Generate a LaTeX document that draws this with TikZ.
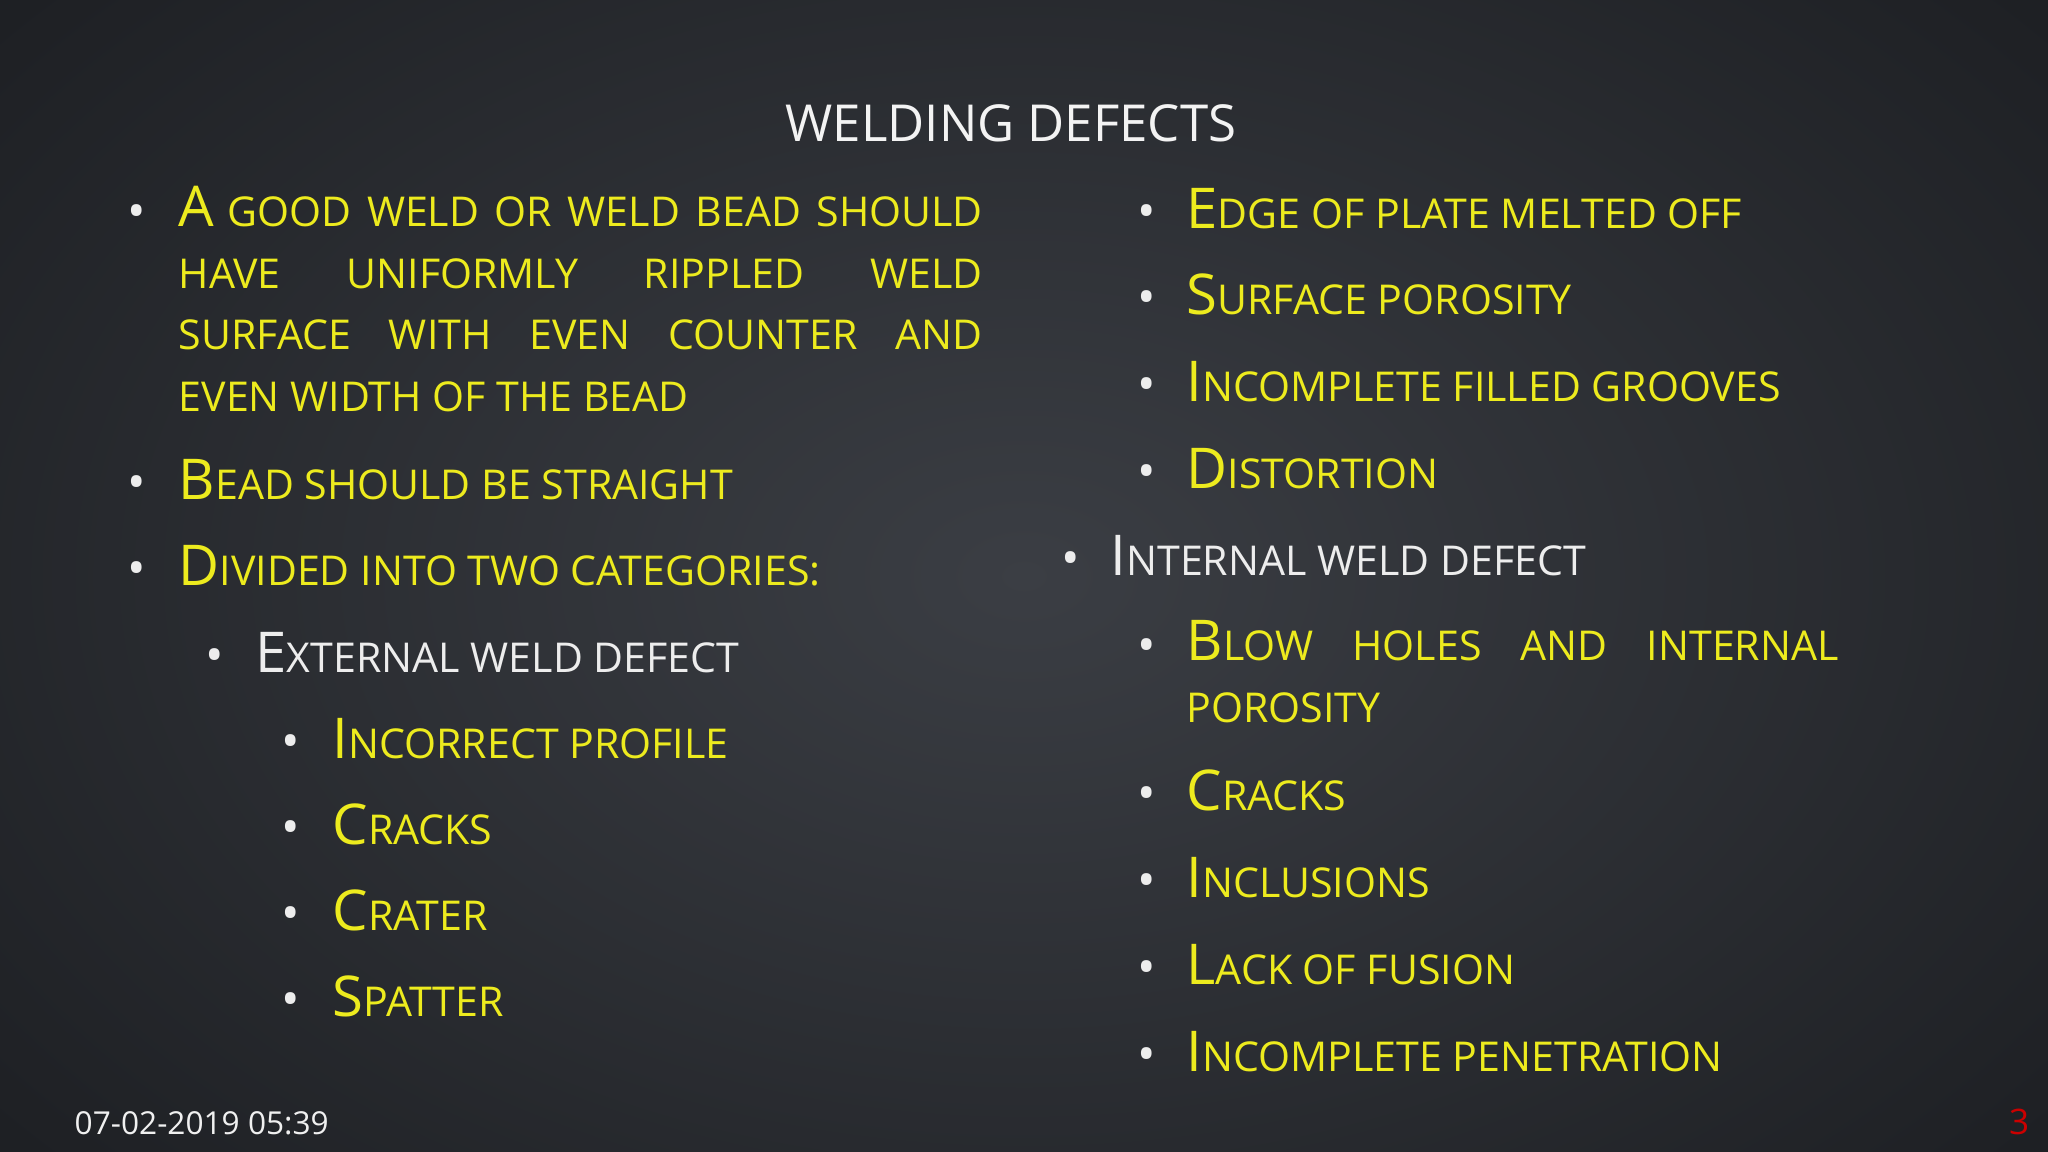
\documentclass[tikz,border=0pt]{standalone}
\usepackage{fontspec}
\setmainfont{Open Sans}
\definecolor{yel}{HTML}{EDEB1E}
\definecolor{wt}{HTML}{EDEDED}
\definecolor{bgc}{HTML}{3B3E44}
\definecolor{bge}{HTML}{1E2024}
\newcommand{\B}[1]{{\fontsize{16pt}{20pt}\selectfont #1}}
\newcommand{\s}[1]{{\fontsize{11.7pt}{20pt}\selectfont #1}}
\tikzset{
 txt/.style={anchor=base west,inner sep=0pt,text=yel},
 wtxt/.style={anchor=base west,inner sep=0pt,text=wt},
 bul/.style={anchor=base,inner sep=0pt,text=wt,font=\fontsize{14pt}{16pt}\selectfont},
}
\begin{document}
\begin{tikzpicture}
\useasboundingbox (0,0) rectangle (20.48,11.52);
\shade[inner color=bgc,outer color=bge] (-3,-3) rectangle (23.48,14.52);
\node[anchor=base,inner sep=0pt,text=wt!70] (title) at (10.11,10.1) {\fontsize{14.5pt}{18pt}\selectfont WELDING DEFECTS};
% left column
\foreach \x/\y/\n in {1.37/9.23/a,1.37/6.52/b,1.37/5.66/c,2.15/4.79/d,2.91/3.93/e,2.91/3.07/f,2.91/2.21/g,2.91/1.35/h}
  \node[bul] (b\n) at (\x,\y) {•};
\node[txt,anchor=north west] (ta) at (1.78,9.66) {\parbox[t]{8.04cm}{\baselineskip=0.615cm\hyphenpenalty=10000
 \B{A} \s{GOOD WELD OR WELD BEAD SHOULD}\linebreak \s{HAVE UNIFORMLY RIPPLED WELD}\linebreak \s{SURFACE WITH EVEN COUNTER AND}\linebreak \s{EVEN WIDTH OF THE BEAD}}};
\node[txt] (tb) at (1.78,6.52) {\B{B}\s{EAD SHOULD BE STRAIGHT}};
\node[txt] (tc) at (1.78,5.66) {\B{D}\s{IVIDED INTO TWO CATEGORIES:}};
\node[wtxt] (td) at (2.55,4.79) {\B{E}\s{XTERNAL WELD DEFECT}};
\node[txt] (te) at (3.32,3.93) {\B{I}\s{NCORRECT PROFILE}};
\node[txt] (tf) at (3.32,3.07) {\B{C}\s{RACKS}};
\node[txt] (tg) at (3.32,2.21) {\B{C}\s{RATER}};
\node[txt] (th) at (3.32,1.35) {\B{S}\s{PATTER}};
% right column
\foreach \x/\y/\n in {11.47/9.23/i,11.47/8.37/j,11.47/7.50/k,11.47/6.63/l,10.71/5.76/m,11.47/4.89/n,11.47/3.41/o,11.47/2.54/p,11.47/1.67/q,11.47/0.80/r}
  \node[bul] (b\n) at (\x,\y) {•};
\node[txt] (ti) at (11.86,9.23) {\B{E}\s{DGE OF PLATE MELTED OFF}};
\node[txt] (tj) at (11.86,8.37) {\B{S}\s{URFACE POROSITY}};
\node[txt] (tk) at (11.86,7.50) {\B{I}\s{NCOMPLETE FILLED GROOVES}};
\node[txt] (tl) at (11.86,6.63) {\B{D}\s{ISTORTION}};
\node[wtxt] (tm) at (11.10,5.76) {\B{I}\s{NTERNAL WELD DEFECT}};
\node[txt,anchor=north west] (tn) at (11.86,5.32) {\parbox[t]{6.52cm}{\baselineskip=0.615cm
 \B{B}\s{LOW HOLES AND INTERNAL POROSITY}}};
\node[txt] (to) at (11.86,3.41) {\B{C}\s{RACKS}};
\node[txt] (tp) at (11.86,2.54) {\B{I}\s{NCLUSIONS}};
\node[txt] (tq) at (11.86,1.67) {\B{L}\s{ACK OF FUSION}};
\node[txt] (tr) at (11.86,0.80) {\B{I}\s{NCOMPLETE PENETRATION}};
\node[wtxt,text=wt!85] (date) at (0.74,0.17) {\fontsize{9pt}{13pt}\selectfont 07-02-2019 05:39};
\node[anchor=base east,inner sep=0pt,text=red!80!black] (pg) at (20.30,0.17) {\fontsize{10pt}{13pt}\selectfont 3};
\end{tikzpicture}
\end{document}
